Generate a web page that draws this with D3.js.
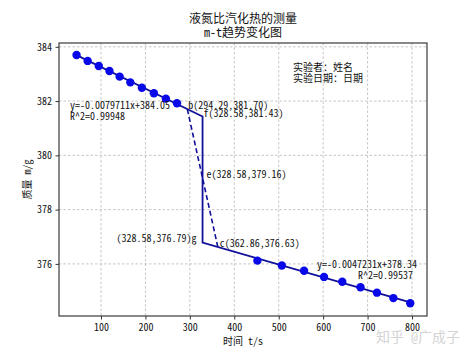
<!DOCTYPE html>
<html>
<head>
<meta charset="utf-8">
<script src="https://cdn.jsdelivr.net/npm/d3@7"></script>
<style>
  html, body { margin: 0; padding: 0; background: #fff; }
  svg text { font-family: "Noto Sans Mono CJK SC", "Noto Sans CJK SC", sans-serif; fill: #111; }
</style>
</head>
<body>
<svg id="chart" width="474" height="355"></svg>
<script>
// ---- data ----
const titleLines = ["液氮比汽化热的测量", "m-t趋势变化图"];
const xLabel = "时间 t/s";
const yLabel = "质量 m/g";
const infoLines = ["实验者：姓名", "实验日期：日期"];
const xTicks = [100, 200, 300, 400, 500, 600, 700, 800];
const yTicks = [376, 378, 380, 382, 384];

const t1 = [45, 70, 95, 119, 142, 166, 192, 219, 246, 271];
const m1 = [383.70, 383.48, 383.29, 383.11, 382.90, 382.69, 382.49, 382.29, 382.09, 381.92];
const t2 = [452, 507, 557, 602, 643, 684, 721, 758, 796];
const m2 = [376.12, 375.94, 375.75, 375.52, 375.34, 375.14, 374.94, 374.74, 374.55];

const fitSlope = [-0.0079711, -0.0047231];
const fitIntercept = [384.05, 378.34];
const fitR2 = ["0.99948", "0.99537"];
const fitText = ["y=-0.0079711x+384.05", "y=-0.0047231x+378.34"];

const tMid = 328.58;
const pointNames = ["b", "f", "e", "g", "c"];
const pointT = [294.29, 328.58, 328.58, 328.58, 362.86];
const pointM = [381.70, 381.43, 379.16, 376.79, 376.63];

// ---- layout ----
const svg = d3.select("#chart");
const L = 59, R = 427, T = 43, B = 316;
const x = d3.scaleLinear().domain([5.5, 833.7]).range([L, R]);
const y = d3.scaleLinear().domain([374.08, 384.14]).range([B, T]);
const lineCol = "#10109a", ptCol = "#0808e8";

// grid
const g = svg.append("g");
g.selectAll(".gx").data(xTicks).join("line")
  .attr("x1", d => x(d)).attr("x2", d => x(d)).attr("y1", T).attr("y2", B)
  .attr("stroke", "#b8b8b8").attr("stroke-width", 0.8).attr("stroke-dasharray", "2.5,2");
g.selectAll(".gy").data(yTicks).join("line")
  .attr("y1", d => y(d)).attr("y2", d => y(d)).attr("x1", L).attr("x2", R)
  .attr("stroke", "#b8b8b8").attr("stroke-width", 0.8).attr("stroke-dasharray", "2.5,2");

// axes
const xAxis = svg.append("g").attr("transform", `translate(0,${B})`)
  .call(d3.axisBottom(x).tickValues(xTicks).tickSize(3.5).tickPadding(4).tickFormat(d3.format("d")));
const yAxis = svg.append("g").attr("transform", `translate(${L},0)`)
  .call(d3.axisLeft(y).tickValues(yTicks).tickSize(3.5).tickPadding(3.5).tickFormat(d3.format("d")));
[xAxis, yAxis].forEach(a => {
  a.select(".domain").remove();
  a.selectAll("line").attr("stroke", "#333");
  a.selectAll("text").style("font-size", "10px").attr("fill", "#111");
});

// frame
svg.append("rect").attr("x", L).attr("y", T).attr("width", R - L).attr("height", B - T)
  .attr("fill", "none").attr("stroke", "#3a3a3a").attr("stroke-width", 1.2);

// fitted solid path
const fit = (k, t) => fitSlope[k] * t + fitIntercept[k];
const solid = [
  [t1[0], fit(0, t1[0])],
  [tMid, fit(0, tMid)],
  [tMid, fit(1, tMid)],
  [t2[t2.length - 1], fit(1, t2[t2.length - 1])]
];
svg.append("path")
  .attr("d", d3.line().x(d => x(d[0])).y(d => y(d[1]))(solid))
  .attr("fill", "none").attr("stroke", lineCol).attr("stroke-width", 1.8);

// dashed b->c
svg.append("line")
  .attr("x1", x(pointT[0])).attr("y1", y(pointM[0]))
  .attr("x2", x(pointT[4])).attr("y2", y(pointM[4]))
  .attr("stroke", lineCol).attr("stroke-width", 1.6).attr("stroke-dasharray", "5,3");

// data points
const pts = t1.map((t, i) => [t, m1[i]]).concat(t2.map((t, i) => [t, m2[i]]));
svg.selectAll(".pt").data(pts).join("circle")
  .attr("cx", d => x(d[0])).attr("cy", d => y(d[1])).attr("r", 4.2).attr("fill", ptCol);

// point labels
const fmt = d3.format(".2f");
const lblOff = { b: [1, 0, "start"], f: [1, 0, "start"], e: [4, 0, "start"], g: [-6, 0, "end"], c: [2, 0, "start"] };
pointNames.forEach((n, i) => {
  const o = lblOff[n];
  const txt = n === "g" ? `(${fmt(pointT[i])},${fmt(pointM[i])})${n}` : `${n}(${fmt(pointT[i])},${fmt(pointM[i])})`;
  svg.append("text").attr("x", x(pointT[i]) + o[0]).attr("y", y(pointM[i]) + o[1])
    .attr("text-anchor", o[2]).style("font-size", "10px").text(txt);
});

// fit equations
svg.append("text").attr("x", 70).attr("y", 108.5).style("font-size", "10px").text(fitText[0]);
svg.append("text").attr("x", 70).attr("y", 119.5).style("font-size", "10px").text("R^2=" + fitR2[0]);
svg.append("text").attr("x", 417).attr("y", 268).attr("text-anchor", "end").style("font-size", "10px").text(fitText[1]);
svg.append("text").attr("x", 413).attr("y", 278.5).attr("text-anchor", "end").style("font-size", "10px").text("R^2=" + fitR2[1]);

// info
infoLines.forEach((s, i) => svg.append("text").attr("x", 293).attr("y", 71 + i * 11)
  .style("font-size", "10px").text(s));

// title
titleLines.forEach((s, i) => svg.append("text").attr("x", (L + R) / 2).attr("y", 22.5 + i * 14)
  .attr("text-anchor", "middle").style("font-size", "12px").text(s));

// axis labels
svg.append("text").attr("x", (L + R) / 2).attr("y", 344.5).attr("text-anchor", "middle")
  .style("font-size", "10px").text(xLabel);
svg.append("text").attr("transform", `translate(30.5,${(T + B) / 2}) rotate(-90)`)
  .attr("text-anchor", "middle").style("font-size", "10px").text(yLabel);

// watermark
svg.append("text").attr("x", 418).attr("y", 342).attr("text-anchor", "middle")
  .style("font-size", "14px").style("fill", "#d4d4d4").text("知乎 @广成子");
</script>
</body>
</html>
